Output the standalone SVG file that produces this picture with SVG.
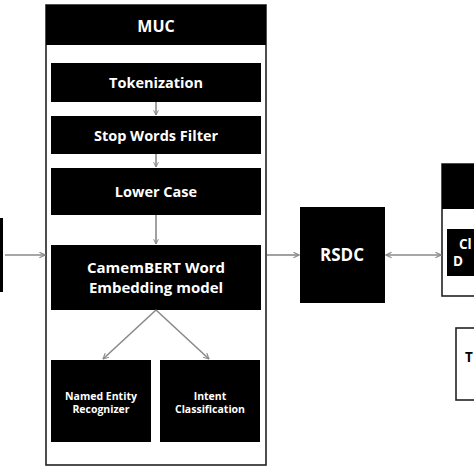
<svg xmlns="http://www.w3.org/2000/svg" width="474" height="474" viewBox="0 0 474 474">
<style>
.blk{fill:#000}
.frame{fill:#fff;stroke:#222;stroke-width:1.6}
.t{fill:#fff;font-family:"Open Sans","DejaVu Sans",sans-serif;font-weight:700;text-anchor:middle}
.tb{fill:#000;font-family:"Open Sans","DejaVu Sans",sans-serif;font-weight:700}
.c{stroke:#8a8a8a;stroke-width:1.6;fill:none}
</style>
<defs>
<marker id="ah" viewBox="0 0 10 10" refX="9" refY="5" markerWidth="7" markerHeight="7" orient="auto-start-reverse" markerUnits="userSpaceOnUse">
<path d="M1,1 L9,5 L1,9" fill="none" stroke="#8a8a8a" stroke-width="1.6"/>
</marker>
<marker id="ahs" viewBox="0 0 10 10" refX="9" refY="5" markerWidth="6" markerHeight="6" orient="auto" markerUnits="userSpaceOnUse">
<path d="M1,1 L9,5 L1,9" fill="none" stroke="#8a8a8a" stroke-width="1.6"/>
</marker>
</defs>
<rect width="474" height="474" fill="#fff"/>
<g id="left-node"><rect class="blk" x="-5" y="218" width="8" height="74"/></g>
<g id="muc">
<rect class="frame" x="46" y="5" width="220" height="460"/>
<rect class="blk" x="46" y="5" width="220" height="40"/>
<text class="t" x="156" y="31.5" font-size="16">MUC</text>
</g>
<g id="tokenization"><rect class="blk" x="51" y="63" width="210" height="39"/><text class="t" x="156" y="88" font-size="14.5">Tokenization</text></g>
<g id="stopwords"><rect class="blk" x="51" y="116" width="210" height="38"/><text class="t" x="156" y="141" font-size="14.5">Stop Words Filter</text></g>
<g id="lowercase"><rect class="blk" x="51" y="168" width="210" height="47"/><text class="t" x="156" y="197" font-size="14.5">Lower Case</text></g>
<g id="camembert"><rect class="blk" x="51" y="245" width="210" height="65"/><text class="t" x="156" y="273" font-size="15">CamemBERT Word</text><text class="t" x="156" y="293" font-size="15">Embedding model</text></g>
<g id="ner"><rect class="blk" x="51" y="360" width="100" height="82"/><text class="t" x="101" y="400" font-size="10.5">Named Entity</text><text class="t" x="101" y="413" font-size="10.5">Recognizer</text></g>
<g id="intent"><rect class="blk" x="160" y="360" width="100" height="82"/><text class="t" x="210" y="400" font-size="10.5">Intent</text><text class="t" x="210" y="413" font-size="10.5">Classification</text></g>
<g id="rsdc"><rect class="blk" x="300" y="207" width="85" height="96"/><text class="t" x="342" y="261" font-size="17">RSDC</text></g>
<g id="right-node">
<rect class="frame" x="442" y="164" width="40" height="132"/>
<rect class="blk" x="442" y="164" width="40" height="45"/>
<rect class="blk" x="447" y="229" width="40" height="47"/>
<text class="t" x="459" y="249" font-size="13.5" style="text-anchor:start">Cl</text>
<text class="t" x="453" y="266" font-size="13.5" style="text-anchor:start">D</text>
</g>
<g id="bottom-right-node">
<rect class="frame" x="456" y="328" width="30" height="72"/>
<text class="tb" x="465" y="362" font-size="13.5">T</text>
</g>
<g id="connectors">
<line class="c" x1="156" y1="102" x2="156" y2="115" marker-end="url(#ahs)"/>
<line class="c" x1="156" y1="154" x2="156" y2="167" marker-end="url(#ahs)"/>
<line class="c" x1="156" y1="215" x2="156" y2="244" marker-end="url(#ahs)"/>
<line class="c" x1="156" y1="310" x2="103" y2="359" marker-end="url(#ah)"/>
<line class="c" x1="156" y1="310" x2="209" y2="359" marker-end="url(#ah)"/>
<line class="c" x1="5" y1="255" x2="45" y2="255" marker-end="url(#ah)"/>
<line class="c" x1="267" y1="255" x2="299" y2="255" marker-end="url(#ah)"/>
<line class="c" x1="386" y1="255" x2="441" y2="255" marker-start="url(#ah)" marker-end="url(#ah)"/>
</g>
</svg>
